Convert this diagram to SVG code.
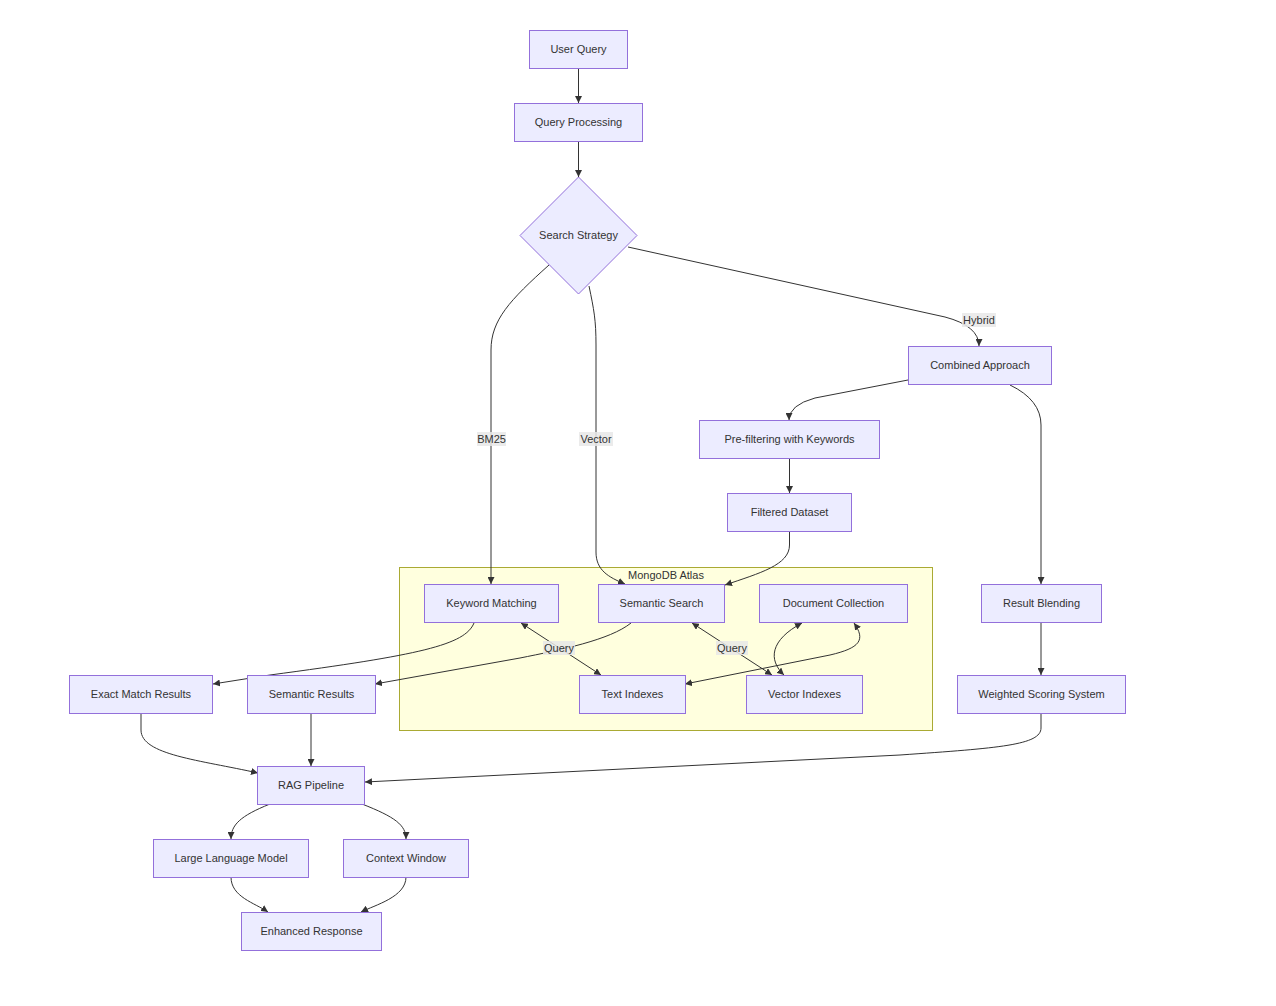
<svg xmlns="http://www.w3.org/2000/svg" width="1276" height="1006" viewBox="0 0 1276 1006">
<defs>
<style>
.node rect,.node polygon{fill:#ECECFF;stroke:#9370DB;stroke-width:1}
.cluster rect{fill:#ffffde;stroke:#aaaa33;stroke-width:1}
text{font-family:"Liberation Sans",Arial,sans-serif;font-size:11px;fill:#333;text-anchor:middle;dominant-baseline:central}
.edges path{fill:none;stroke:#333;stroke-width:1}
.lbl rect{fill:#e8e8e8;opacity:0.85}
</style>
<marker id="ah" viewBox="0 0 10 10" refX="10" refY="5" markerUnits="userSpaceOnUse" markerWidth="7" markerHeight="7" orient="auto-start-reverse">
<path d="M0,0 L10,5 L0,10 z" fill="#333"/>
</marker>
</defs>
<rect x="0" y="0" width="1276" height="1006" fill="#ffffff"/>
<g id="cluster-mongodb" class="cluster">
<rect x="399.5" y="567.5" width="533" height="163"/>
<text x="666" y="575">MongoDB Atlas</text>
</g>
<g class="edges" id="edges">
<path d="M578.5,68 L578.5,103" marker-end="url(#ah)"/>
<path d="M578.5,141 L578.5,177" marker-end="url(#ah)"/>
<path d="M549,265 C510,300 491,320 491,350 L491,584" marker-end="url(#ah)"/>
<path d="M589,286 C594,310 596,320 596,345 L596,552 C596,570 608,577 625,584" marker-end="url(#ah)"/>
<path d="M628,247 L945,317 Q979,326 979,346" marker-end="url(#ah)"/>
<path d="M908,380 L815,398 Q789,405 789,420" marker-end="url(#ah)"/>
<path d="M1010,385 Q1041,400 1041,425 L1041,584" marker-end="url(#ah)"/>
<path d="M789.5,458 L789.5,493" marker-end="url(#ah)"/>
<path d="M789.5,531 L789.5,545 C789.5,565 760,573 725,585" marker-end="url(#ah)"/>
<path d="M521,623 L601,675" marker-start="url(#ah)" marker-end="url(#ah)"/>
<path d="M692,623 L772,675" marker-start="url(#ah)" marker-end="url(#ah)"/>
<path d="M802,623 C770,640 768,660 784,675" marker-start="url(#ah)" marker-end="url(#ah)"/>
<path d="M854,623 C866,640 860,648 830,655 L685,684" marker-start="url(#ah)" marker-end="url(#ah)"/>
<path d="M474,623 C465,645 420,655 270,675 L213,684" marker-end="url(#ah)"/>
<path d="M631,623 C610,640 560,650 520,658 L375,684" marker-end="url(#ah)"/>
<path d="M141,713 L141,730 C141,755 200,760 258,773" marker-end="url(#ah)"/>
<path d="M311,713 L311,766" marker-end="url(#ah)"/>
<path d="M1041,713 L1041,728 C1041,745 1000,748 900,755 L365,782" marker-end="url(#ah)"/>
<path d="M1041,622 L1041,675" marker-end="url(#ah)"/>
<path d="M270,804 C240,816 231,825 231,839" marker-end="url(#ah)"/>
<path d="M362,804 C395,817 406,825 406,839" marker-end="url(#ah)"/>
<path d="M231,877 C231,897 255,903 268,912" marker-end="url(#ah)"/>
<path d="M406,877 C406,897 375,905 361,912" marker-end="url(#ah)"/>
</g>
<g id="edge-labels" class="lbl">
<rect x="477" y="432" width="29" height="14"/><text x="491.5" y="439">BM25</text>
<rect x="579" y="432" width="34" height="14"/><text x="596" y="439">Vector</text>
<rect x="962" y="313" width="34" height="14"/><text x="979" y="320">Hybrid</text>
<rect x="543" y="641" width="32" height="14"/><text x="559" y="648">Query</text>
<rect x="716" y="641" width="32" height="14"/><text x="732" y="648">Query</text>
</g>
<g id="n-user-query" class="node"><rect x="529.5" y="30.5" width="98" height="38"/><text x="578.5" y="49">User Query</text></g>
<g id="n-query-processing" class="node"><rect x="514.5" y="103.5" width="128" height="38"/><text x="578.5" y="122">Query Processing</text></g>
<g id="n-search-strategy" class="node"><polygon points="578.5,177 637,235.5 578.5,294 520,235.5"/><text x="578.5" y="235">Search Strategy</text></g>
<g id="n-combined" class="node"><rect x="908.5" y="346.5" width="143" height="38"/><text x="980" y="365">Combined Approach</text></g>
<g id="n-prefilter" class="node"><rect x="699.5" y="420.5" width="180" height="38"/><text x="789.5" y="439">Pre-filtering with Keywords</text></g>
<g id="n-filtered" class="node"><rect x="727.5" y="493.5" width="124" height="38"/><text x="789.5" y="512">Filtered Dataset</text></g>
<g id="n-keyword" class="node"><rect x="424.5" y="584.5" width="134" height="38"/><text x="491.5" y="603">Keyword Matching</text></g>
<g id="n-semantic-search" class="node"><rect x="598.5" y="584.5" width="126" height="38"/><text x="661.5" y="603">Semantic Search</text></g>
<g id="n-doc-collection" class="node"><rect x="759.5" y="584.5" width="148" height="38"/><text x="833.5" y="603">Document Collection</text></g>
<g id="n-text-indexes" class="node"><rect x="579.5" y="675.5" width="106" height="38"/><text x="632.5" y="694">Text Indexes</text></g>
<g id="n-vector-indexes" class="node"><rect x="746.5" y="675.5" width="116" height="38"/><text x="804.5" y="694">Vector Indexes</text></g>
<g id="n-result-blending" class="node"><rect x="981.5" y="584.5" width="120" height="38"/><text x="1041.5" y="603">Result Blending</text></g>
<g id="n-weighted" class="node"><rect x="957.5" y="675.5" width="168" height="38"/><text x="1041.5" y="694">Weighted Scoring System</text></g>
<g id="n-exact" class="node"><rect x="69.5" y="675.5" width="143" height="38"/><text x="141" y="694">Exact Match Results</text></g>
<g id="n-semantic-results" class="node"><rect x="247.5" y="675.5" width="128" height="38"/><text x="311.5" y="694">Semantic Results</text></g>
<g id="n-rag" class="node"><rect x="257.5" y="766.5" width="107" height="38"/><text x="311" y="785">RAG Pipeline</text></g>
<g id="n-llm" class="node"><rect x="153.5" y="839.5" width="155" height="38"/><text x="231" y="858">Large Language Model</text></g>
<g id="n-context" class="node"><rect x="343.5" y="839.5" width="125" height="38"/><text x="406" y="858">Context Window</text></g>
<g id="n-enhanced" class="node"><rect x="241.5" y="912.5" width="140" height="38"/><text x="311.5" y="931">Enhanced Response</text></g>
</svg>
